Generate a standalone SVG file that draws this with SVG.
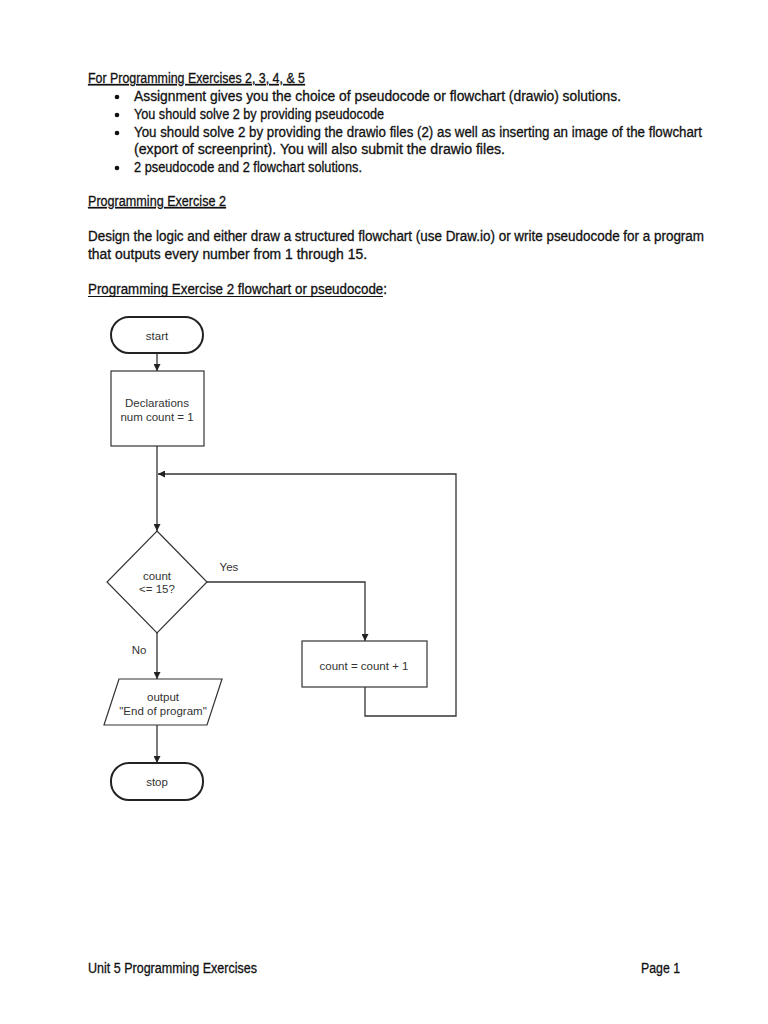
<svg xmlns="http://www.w3.org/2000/svg" width="768" height="1024" viewBox="0 0 768 1024">
<defs>
<marker id="ah" viewBox="0 0 10 10" refX="10" refY="5" markerWidth="7" markerHeight="7" orient="auto" markerUnits="userSpaceOnUse">
<path d="M0,0 L10,5 L0,10 z" fill="#222"/>
</marker>
<style>
.doc{font-family:"Liberation Sans",Arial,sans-serif;font-size:14px;fill:#111;stroke:#111;stroke-width:0.3}
.u{text-decoration:underline}
.fc{font-family:"Liberation Sans",Arial,sans-serif;font-size:11.5px;fill:#333;text-anchor:middle}
.shape{fill:#fff;stroke:#333;stroke-width:1.2}
.term{fill:#fff;stroke:#222;stroke-width:2}
.conn{fill:none;stroke:#333;stroke-width:1.3}
</style>
</defs>
<rect width="768" height="1024" fill="#fff"/>
<g id="header-text">
<text class="doc u" x="88" y="83" textLength="217" lengthAdjust="spacingAndGlyphs">For Programming Exercises 2, 3, 4, &amp; 5</text>
<circle cx="117" cy="97" r="2.3" fill="#111"/>
<circle cx="117" cy="115" r="2.3" fill="#111"/>
<circle cx="117" cy="133" r="2.3" fill="#111"/>
<circle cx="117" cy="168" r="2.3" fill="#111"/>
<text class="doc" x="134" y="101" textLength="487" lengthAdjust="spacingAndGlyphs">Assignment gives you the choice of pseudocode or flowchart (drawio) solutions.</text>
<text class="doc" x="134" y="119" textLength="250" lengthAdjust="spacingAndGlyphs">You should solve 2 by providing pseudocode</text>
<text class="doc" x="134" y="137" textLength="568" lengthAdjust="spacingAndGlyphs">You should solve 2 by providing the drawio files (2) as well as inserting an image of the flowchart</text>
<text class="doc" x="134" y="154" textLength="371" lengthAdjust="spacingAndGlyphs">(export of screenprint). You will also submit the drawio files.</text>
<text class="doc" x="134" y="172" textLength="228" lengthAdjust="spacingAndGlyphs">2 pseudocode and 2 flowchart solutions.</text>
<text class="doc u" x="88" y="206" textLength="138" lengthAdjust="spacingAndGlyphs">Programming Exercise 2</text>
<text class="doc" x="88" y="241" textLength="616" lengthAdjust="spacingAndGlyphs">Design the logic and either draw a structured flowchart (use Draw.io) or write pseudocode for a program</text>
<text class="doc" x="88" y="259" textLength="279" lengthAdjust="spacingAndGlyphs">that outputs every number from 1 through 15.</text>
<text class="doc" x="88" y="294" textLength="299" lengthAdjust="spacingAndGlyphs">Programming Exercise 2 flowchart or pseudocode:</text>
<line x1="88" y1="296.5" x2="383" y2="296.5" stroke="#111" stroke-width="1"/>
</g>
<g id="connectors">
<line class="conn" x1="157" y1="353" x2="157" y2="371" marker-end="url(#ah)"/>
<line class="conn" x1="157" y1="446" x2="157" y2="531" marker-end="url(#ah)"/>
<polyline class="conn" points="365,687 365,716 456,716 456,474 158,474" marker-end="url(#ah)"/>
<polyline class="conn" points="207,582 365,582 365,641" marker-end="url(#ah)"/>
<line class="conn" x1="157" y1="633" x2="157" y2="679" marker-end="url(#ah)"/>
<line class="conn" x1="157" y1="725" x2="157" y2="763" marker-end="url(#ah)"/>
<text class="fc" x="229" y="571">Yes</text>
<text class="fc" x="139" y="654">No</text>
</g>
<g id="start">
<rect class="term" x="111" y="317" width="92" height="36" rx="18"/>
<text class="fc" x="157" y="340">start</text>
</g>
<g id="declarations">
<rect class="shape" x="111" y="371" width="93" height="75"/>
<text class="fc" x="157" y="407">Declarations</text>
<text class="fc" x="157" y="421">num count = 1</text>
</g>
<g id="decision">
<polygon class="shape" points="157,531 207,582 157,633 107,582"/>
<text class="fc" x="157" y="580">count</text>
<text class="fc" x="157" y="593">&lt;= 15?</text>
</g>
<g id="increment">
<rect class="shape" x="302" y="641" width="125" height="46"/>
<text class="fc" x="364" y="670">count = count + 1</text>
</g>
<g id="output">
<polygon class="shape" points="119,679 222,679 207,725 104,725"/>
<text class="fc" x="163" y="701">output</text>
<text class="fc" x="163" y="715">"End of program"</text>
</g>
<g id="stop">
<rect class="term" x="111" y="763" width="92" height="37" rx="18"/>
<text class="fc" x="157" y="786">stop</text>
</g>
<g id="footer">
<text class="doc" x="88" y="973" textLength="169" lengthAdjust="spacingAndGlyphs">Unit 5 Programming Exercises</text>
<text class="doc" x="641" y="973" textLength="39" lengthAdjust="spacingAndGlyphs">Page 1</text>
</g>
</svg>
